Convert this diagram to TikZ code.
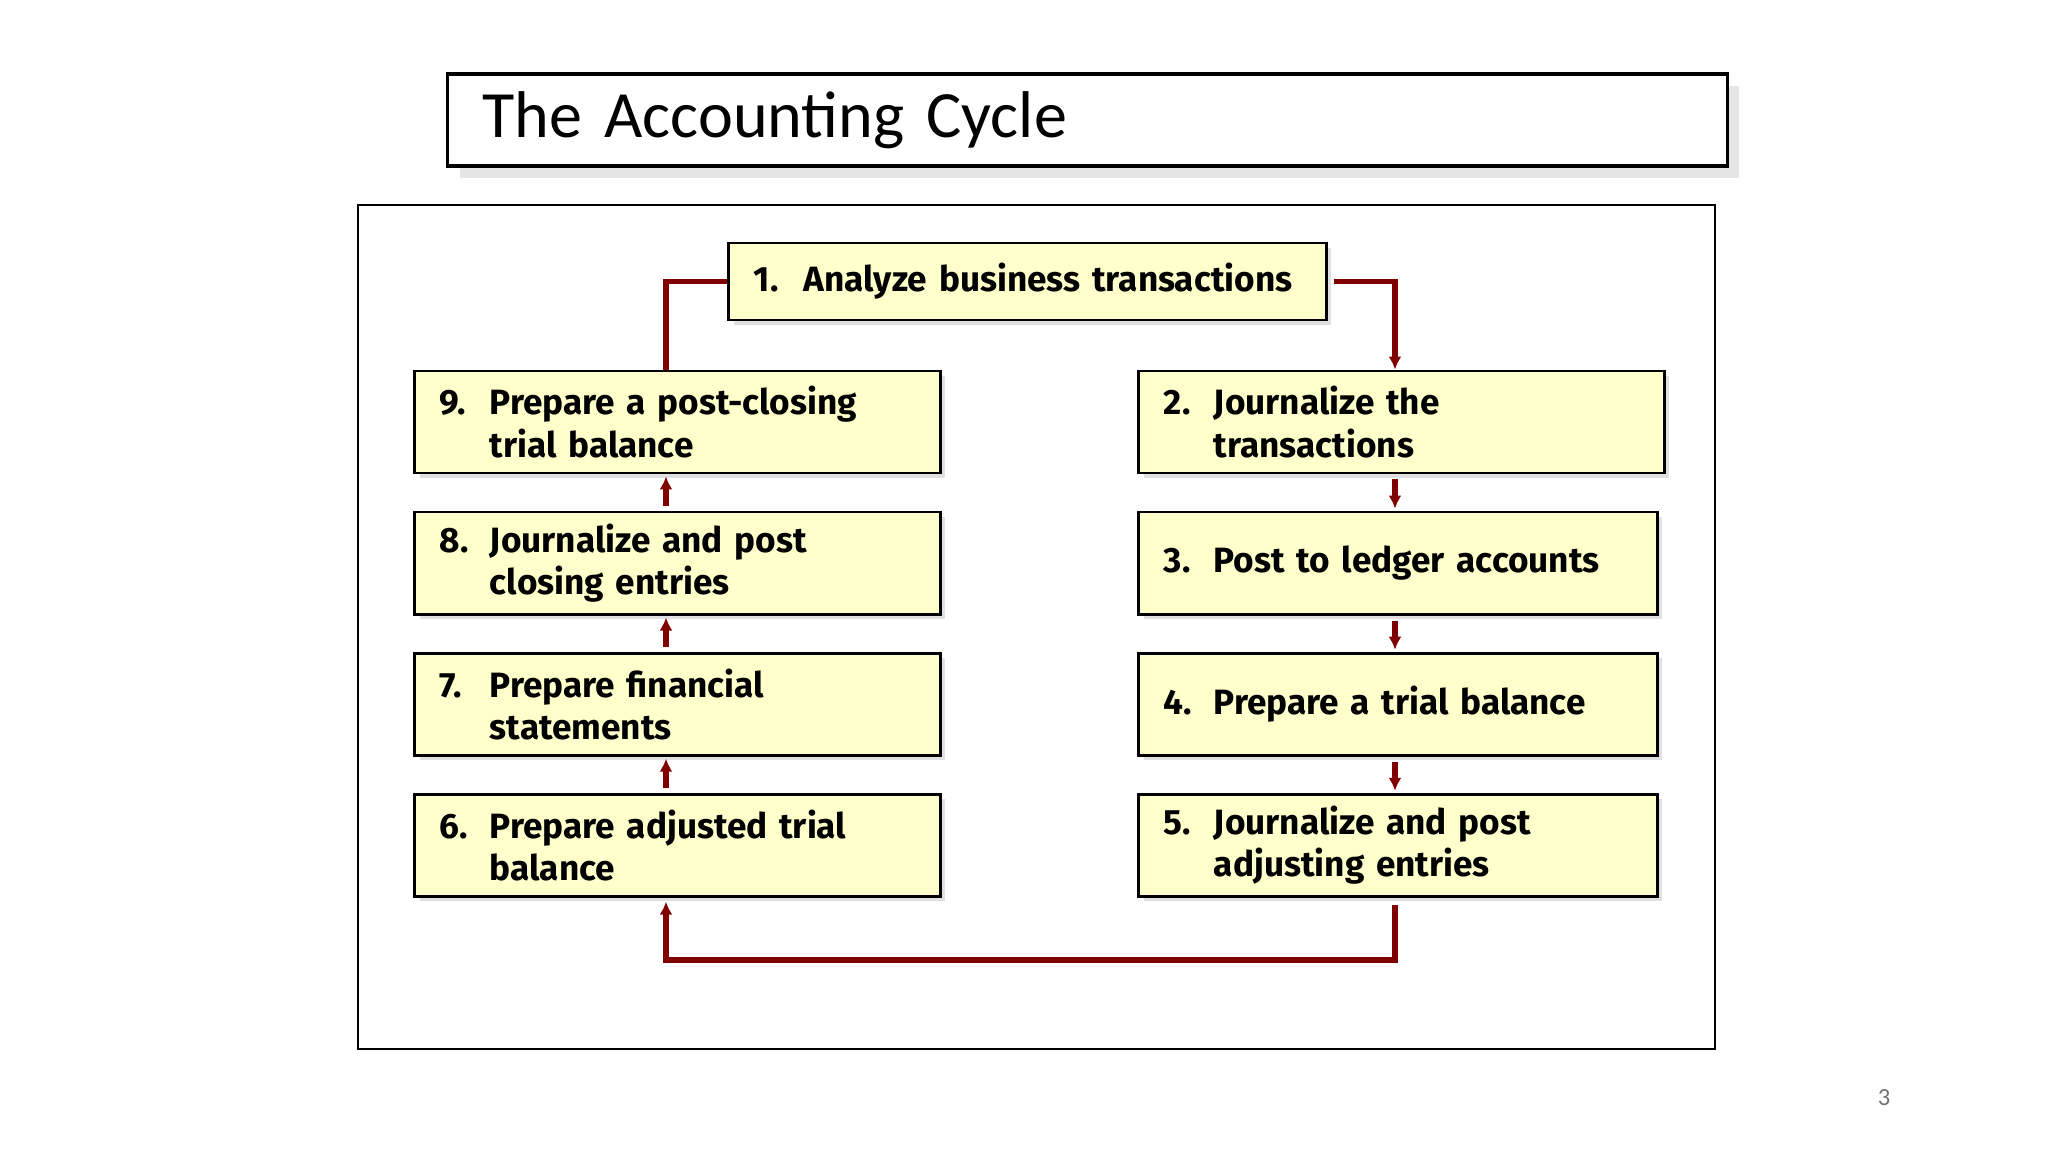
\documentclass[tikz,border=0pt]{standalone}
\usepackage{fontspec}
\setmainfont{Carlito}
\newfontfamily\stepfont{Fira Sans}
\usepackage{xcolor}
\usetikzlibrary{arrows.meta,shadows,calc,positioning}
\definecolor{stepfill}{HTML}{FFFFCC}
\definecolor{cyclered}{HTML}{800000}
\newcommand{\stepline}[2]{\makebox[0.5cm][l]{#1}#2}

\begin{document}
\begin{tikzpicture}[x=0.01cm,y=0.01cm,>={Latex[length=0.13cm,width=0.13cm]},node distance=1.41cm]
 \tikzstyle{stepbox}=[draw, line width=0.8pt, fill=stepfill, rectangle, minimum height=1.02cm, inner xsep=0.25cm, align=left, font=\stepfont\bfseries\fontsize{10}{12}\selectfont, drop shadow={shadow xshift=0.05cm, shadow yshift=-0.05cm, fill=black!12, opacity=1}]
 \tikzstyle{leftbox}=[stepbox, text width=4.75cm]
 \tikzstyle{rightbox}=[stepbox, text width=4.68cm]
 \tikzstyle{link}=[draw=cyclered, line width=1.7pt]
 \tikzstyle{hop}=[->, draw=cyclered, line width=1.6pt, shorten <=0.05cm, shorten >=0.02cm]
 \fill[white] (0,0) rectangle (2048,-1152);
 \useasboundingbox (0,0) rectangle (2048,-1152);

 % title bar
 \node[draw, line width=0.9pt, fill=white, minimum height=0.92cm, text width=12.09cm, inner xsep=0.35cm, align=left, font=\fontsize{18.8}{22}\selectfont, drop shadow={shadow xshift=0.12cm, shadow yshift=-0.12cm, fill=black!10, opacity=1}] (title) at (1087.5,-120) {The Accounting Cycle};
 \draw[line width=0.7pt] (358,-205) rectangle (1715,-1049);

 % the nine steps
 \node[stepbox, text width=5.47cm, minimum height=0.77cm] (b1) at (1027.5,-281.5) {\stepline{1.}{Analyze business transactions}};
 \node[leftbox]  (b9) at (677.5,-422) {\stepline{9.}{Prepare a post-closing}\\\hspace*{0.5cm}trial balance};
 \node[leftbox]  (b8) [below of=b9] {\stepline{8.}{Journalize and post}\\\hspace*{0.5cm}closing entries};
 \node[leftbox]  (b7) [below of=b8] {\stepline{7.}{Prepare financial}\\\hspace*{0.5cm}statements};
 \node[leftbox]  (b6) [below of=b7] {\stepline{6.}{Prepare adjusted trial}\\\hspace*{0.5cm}balance};
 \node[stepbox, text width=4.75cm] (b2) at (1401.5,-422) {\stepline{2.}{Journalize the}\\\hspace*{0.5cm}transactions};
 \node[rightbox] (b3) [below of=b2, xshift=-0.035cm] {\stepline{3.}{Post to ledger accounts}};
 \node[rightbox] (b4) [below of=b3] {\stepline{4.}{Prepare a trial balance}};
 \node[rightbox] (b5) [below of=b4] {\stepline{5.}{Journalize and post}\\\hspace*{0.5cm}adjusting entries};

 \coordinate (lx) at (666,0);
 \coordinate (rx) at (1395,0);
 \coordinate (bot) at (0,-960);

 % connectors
 \draw[link] (b1.west) -| (b9.north -| lx);
 \draw[link, ->, shorten <=0.06cm] (b1.east) -| (b2.north -| rx);
 \draw[hop] (b2.south -| rx) -- (b3.north -| rx);
 \draw[hop] (b3.south -| rx) -- (b4.north -| rx);
 \draw[hop] (b4.south -| rx) -- (b5.north -| rx);
 \draw[link, ->, shorten <=0.07cm, shorten >=0.04cm] (b5.south -| rx) -- (bot -| rx) -- (bot -| lx) -- (b6.south -| lx);
 \draw[hop] (b6.north -| lx) -- (b7.south -| lx);
 \draw[hop] (b7.north -| lx) -- (b8.south -| lx);
 \draw[hop] (b8.north -| lx) -- (b9.south -| lx);

 \node[text=black!55, font=\fontsize{7}{8}\selectfont] (pagenum) at (1884,-1098) {3};
\end{tikzpicture}
\end{document}
